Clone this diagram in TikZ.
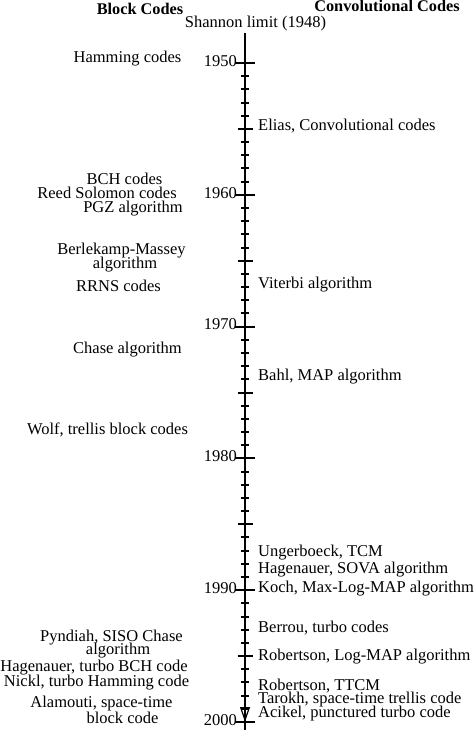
\documentclass[tikz,border=0pt]{standalone}
\usepackage{fontspec}
\setmainfont{Liberation Serif}
\usetikzlibrary{arrows.meta,positioning}
\newcommand{\yy}[1]{63+13.18*(#1-1950)}
\tikzset{
  lbl/.style={font=\fontsize{16.5}{14}\selectfont,inner sep=0pt},
  blk/.style={lbl,anchor=base},
  cnv/.style={lbl,anchor=base west},
  yrlbl/.style={lbl,anchor=base east},
  hdr/.style={lbl,font=\fontsize{16.3}{14}\selectfont\bfseries,anchor=base},
  axisline/.style={line width=1.8pt},
  yrtick/.style={line width=2pt}
}

\begin{document}
\begin{tikzpicture}[x=1pt,y=-1pt]
\useasboundingbox (0,0) rectangle (474,730);
\coordinate (top) at (245,33);
\coordinate (bottom) at (245,731);
\draw[axisline] (top) -- (bottom);
\foreach \i in {1950,...,2000} {
  \pgfmathsetmacro\len{ifthenelse(mod(\i,10)==0,10,ifthenelse(mod(\i,5)==0,7.5,4))}
  \draw[yrtick] ({245-\len},{\yy{\i}}) -- ({245+\len},{\yy{\i}});
}
\foreach \i in {1950,1960,...,2000}
  \node[yrlbl] (y\i) at (237,{\yy{\i}+3.3}) {\i};
\coordinate (a1999) at (245,{\yy{2000}-15});
\coordinate (a2000) at (245,{\yy{2000}});
\draw[line width=1.2pt,-{Triangle[open,length=15pt,width=10pt]}] (a1999) -- (a2000);

\node[hdr] (block) at (140,14.5) {Block Codes};
\node[hdr] (conv) at (387,11.5) {Convolutional Codes};
\node[blk] (shannon) at (255.5,28) {Shannon limit (1948)};

\node[blk] (hamming) at (127.5,63) {Hamming codes};
\node[blk] (bch) at (124.5,185) {BCH codes};
\node[blk] (rs) at (107,198) {Reed Solomon codes};
\node[blk] (pgz) at (133,212) {PGZ algorithm};
\node[blk] (bm) at (121.5,254) {Berlekamp-Massey};
\node[blk] (bm2) at (125,268) {algorithm};
\node[blk] (rrns) at (118.5,291) {RRNS codes};
\node[blk] (chase) at (127.5,353) {Chase algorithm};
\node[blk] (wolf) at (107.5,434) {Wolf, trellis block codes};
\node[blk] (pyndiah) at (111.5,641) {Pyndiah, SISO Chase};
\node[blk] (pyndiah2) at (118,654) {algorithm};
\node[blk] (tbch) at (94,671) {Hagenauer, turbo BCH code};
\node[blk] (nickl) at (96.5,686) {Nickl, turbo Hamming code};
\node[blk] (alamouti) at (101.5,707) {Alamouti, space-time};
\node[blk] (alamouti2) at (122.5,723) {block code};

\node[cnv] (elias) at (258,131) {Elias, Convolutional codes};
\node[cnv] (viterbi) at (258,288) {Viterbi algorithm};
\node[cnv] (bahl) at (258,380) {Bahl, MAP algorithm};
\node[cnv] (tcm) at (258,556) {Ungerboeck, TCM};
\node[cnv] (sova) at (258,573) {Hagenauer, SOVA algorithm};
\node[cnv] (koch) at (258,592) {Koch, Max-Log-MAP algorithm};
\node[cnv] (berrou) at (258,632) {Berrou, turbo codes};
\node[cnv] (logmap) at (258,660) {Robertson, Log-MAP algorithm};
\node[cnv] (ttcm) at (258,690) {Robertson, TTCM};
\node[cnv] (tarokh) at (258,703) {Tarokh, space-time trellis code};
\node[cnv] (acikel) at (258,717) {Acikel, punctured turbo code};
\end{tikzpicture}
\end{document}
